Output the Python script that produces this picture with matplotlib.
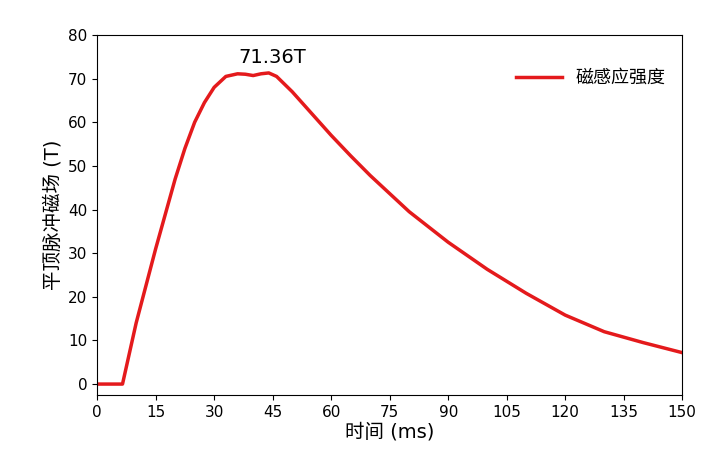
import matplotlib.pyplot as plt

plt.rcParams['font.family'] = ['DejaVu Sans', 'Noto Sans CJK SC']

time_ms = [0, 6.5, 10, 15, 20, 22.5, 25, 27.5, 30, 33, 36, 38, 40, 42, 44, 46, 50, 55, 60, 65,
           70, 80, 90, 100, 110, 120, 130, 140, 150]
field_t = [0, 0, 14, 31, 47, 54, 60, 64.5, 68, 70.5, 71.1, 71.0, 70.7, 71.1, 71.3, 70.5, 67, 62,
           57, 52.3, 47.8, 39.5, 32.5, 26.3, 20.8, 15.8, 12.0, 9.5, 7.2]

fig = plt.figure(figsize=(7.25, 4.54), dpi=100)
ax = fig.add_axes([0.134, 0.130, 0.807, 0.793])
ax.plot(time_ms, field_t, color='#e41a1c', lw=2.5, label='磁感应强度')
ax.set_xlim(0, 150)
ax.set_ylim(-2.5, 80)
ax.set_xticks(range(0, 151, 15))
ax.set_yticks(range(0, 81, 10))
ax.tick_params(direction='out', labelsize=11)
ax.set_xlabel('时间 (ms)', fontsize=14, labelpad=2)
ax.set_ylabel('平顶脉冲磁场 (T)', fontsize=14)
ax.text(45, 73.5, '71.36T', fontsize=14, ha='center')
ax.legend(loc='upper right', frameon=False, fontsize=13, handlelength=2.5,
          bbox_to_anchor=(1.0, 0.95))
fig.savefig('out.png')
